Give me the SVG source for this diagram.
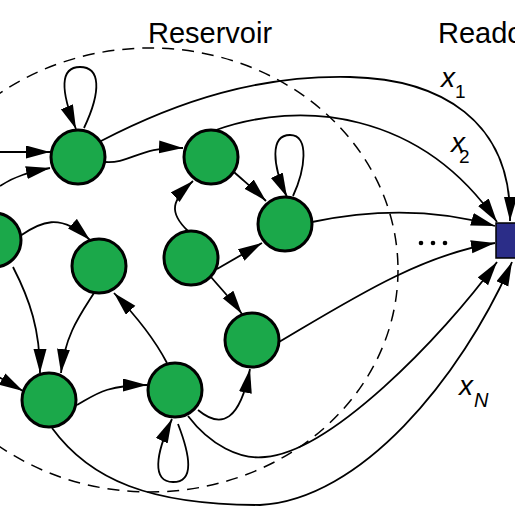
<svg xmlns="http://www.w3.org/2000/svg" width="515" height="515" viewBox="0 0 515 515">
<style>
.node{fill:#1BA84A;stroke:#000;stroke-width:3}
.e{fill:none;stroke:#000;stroke-width:1.8;marker-end:url(#ah)}
.lbl{font-family:"Liberation Sans",Arial,sans-serif;fill:#000}
.it{font-style:italic}
</style>
<defs>
<marker id="ah" markerUnits="userSpaceOnUse" markerWidth="26" markerHeight="14" refX="24" refY="6.5" orient="auto">
<path d="M0,0 L24,6.5 L0,13 z" fill="#000"/>
</marker>
</defs>
<rect width="515" height="515" fill="#fff"/>
<ellipse cx="150" cy="270" rx="248" ry="222" fill="none" stroke="#000" stroke-width="1.5" stroke-dasharray="12 8"/>
<g id="connectors">
<path class="e" d="M0,152 L50,152"/>
<path class="e" d="M0,186 C15,176 30,172 50,168"/>
<path class="e" d="M84,128 C102,90 100,67 80,67 C60,67 60,90 76,129"/>
<path class="e" d="M105,162 C130,164 140,146 183,148"/>
<path class="e" d="M101,141 C180,100 260,75 350,77 C440,79 512,120 510,221"/>
<path class="e" d="M216,130 C300,100 420,110 497,222"/>
<path class="e" d="M234,172 C245,182 255,190 266,201"/>
<path class="e" d="M293,196 C305,170 310,135 290,135 C270,135 272,165 287,197"/>
<path class="e" d="M188,231 C168,212 172,200 193,181"/>
<path class="e" d="M217,269 L262,243"/>
<path class="e" d="M211,277 C222,290 232,300 242,314"/>
<path class="e" d="M312,222 C380,208 440,210 495,226"/>
<path class="e" d="M279,342 C350,300 420,255 495,243"/>
<path class="e" d="M188,416 C210,445 240,460 265,457 C330,452 440,340 497,262"/>
<path class="e" d="M52,428 C90,480 150,505 260,505 C360,500 460,380 512,262"/>
<path class="e" d="M20,236 C40,222 60,212 90,240"/>
<path class="e" d="M13,267 C30,300 40,330 40,373"/>
<path class="e" d="M94,293 C80,315 65,335 61,373"/>
<path class="e" d="M-10,372 L23,391"/>
<path class="e" d="M77,405 C95,395 105,385 147,385"/>
<path class="e" d="M167,363 C155,340 140,320 114,293"/>
<path class="e" d="M178,424 C190,455 195,482 173,482 C152,482 155,455 172,419"/>
<path class="e" d="M198,410 C222,430 240,420 250,369"/>
</g>
<g id="nodeA"><circle class="node" cx="78" cy="157" r="27"/></g>
<g id="nodeB"><circle class="node" cx="211" cy="157" r="27"/></g>
<g id="nodeC"><circle class="node" cx="-6" cy="240" r="27"/></g>
<g id="nodeD"><circle class="node" cx="99" cy="266" r="27"/></g>
<g id="nodeE"><circle class="node" cx="191" cy="258" r="27"/></g>
<g id="nodeF"><circle class="node" cx="285" cy="224" r="27"/></g>
<g id="nodeG"><circle class="node" cx="252" cy="340" r="27"/></g>
<g id="nodeH"><circle class="node" cx="49" cy="400" r="27"/></g>
<g id="nodeI"><circle class="node" cx="175" cy="390" r="27"/></g>
<g id="readout"><rect x="496" y="223" width="30" height="35" fill="#2B2D88" stroke="#000" stroke-width="1.5"/></g>
<g id="dots" fill="#000">
<circle cx="421" cy="243" r="2.3"/><circle cx="433" cy="243" r="2.3"/><circle cx="445" cy="243" r="2.3"/>
</g>
<g id="labels">
<text class="lbl" x="148" y="43" font-size="29">Reservoir</text>
<text class="lbl" x="438" y="43" font-size="29">Readout</text>
<text class="lbl" font-size="28"><tspan class="it" x="441" y="87">x</tspan><tspan x="455" y="98" font-size="19">1</tspan></text>
<text class="lbl" font-size="28"><tspan class="it" x="451" y="152">x</tspan><tspan x="459" y="163" font-size="19">2</tspan></text>
<text class="lbl" font-size="28"><tspan class="it" x="459" y="395">x</tspan><tspan class="it" x="474" y="407" font-size="20">N</tspan></text>
</g>
</svg>
